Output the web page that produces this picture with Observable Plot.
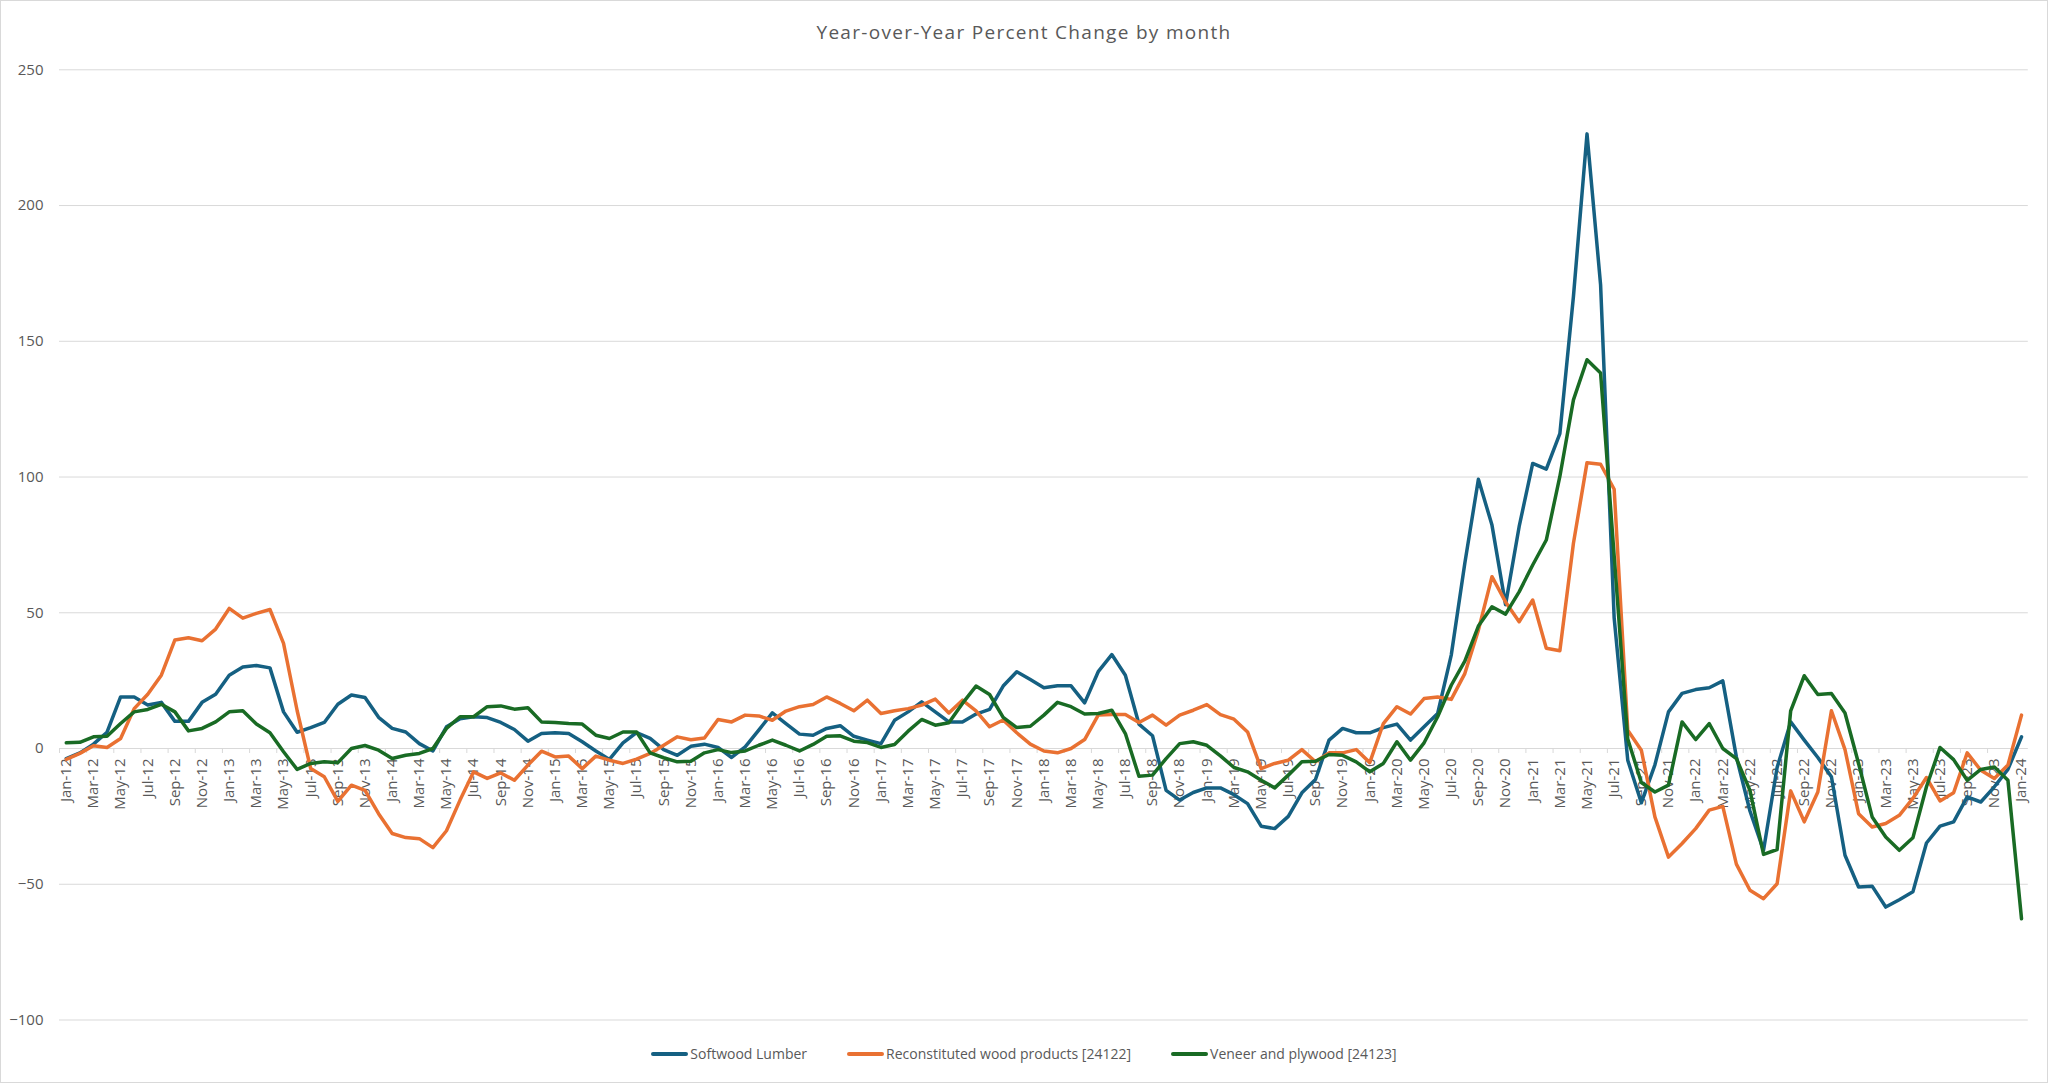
<!DOCTYPE html>
<html>
<head>
<meta charset="utf-8">
<script src="https://cdn.jsdelivr.net/npm/d3@7"></script>
<script src="https://cdn.jsdelivr.net/npm/@observablehq/plot@0.6"></script>
<style>
  html, body { margin: 0; padding: 0; background: #fff; }
  #chart { position: relative; width: 2048px; height: 1083px; background: #fff; font-family: "Open Sans", sans-serif; color: #595959; overflow: hidden; }
  #frame { position: absolute; left: 0; top: 0; width: 2048px; height: 1083px; box-sizing: border-box; border: 1px solid #d9d9d9; pointer-events: none; }
  #title { position: absolute; left: 0; top: 20px; width: 2048px; text-align: center; font-size: 19px; line-height: 24px; letter-spacing: 1.3px; color: #595959; }
  #plot { position: absolute; left: 0; top: 50px; }
  #legend { position: absolute; left: 0; top: 1044px; width: 2048px; display: flex; justify-content: center; gap: 40px; font-size: 14px; line-height: 20px; color: #595959; }
  .item { display: flex; align-items: center; gap: 2px; }
  .swatch { width: 37px; height: 4px; border-radius: 2px; }
</style>
</head>
<body>
<div id="chart">
  <div id="title">Year-over-Year Percent Change by month</div>
  <div id="plot"></div>
  <div id="legend"></div>
  <div id="frame"></div>
</div>
<script>
// Year-over-year % change, monthly, Jan-12 through Jan-24 (one row of 12 per year)
const softwoodLumber = [
  -3.7, -1.6, 1.6, 6, 19, 19, 16, 17, 10, 10, 17, 20,
  27, 30, 30.6, 29.7, 13.5, 6, 7.7, 9.6, 16.3, 19.7, 18.8, 11.5,
  7.4, 6.1, 1.8, -0.9, 8, 11, 11.7, 11.4, 9.6, 7, 2.7, 5.5,
  5.8, 5.5, 2.5, -0.9, -4, 2.1, 5.9, 3.7, -0.4, -2.5, 0.8, 1.6,
  0.4, -3.3, 0.6, 6.8, 13.1, 9.2, 5.3, 4.9, 7.4, 8.4, 4.5, 3.1,
  1.8, 10.4, 13.5, 17.2, 13.5, 9.8, 9.8, 12.7, 14.4, 23, 28.3, 25.4,
  22.4, 23.1, 23.1, 16.8, 28.3, 34.6, 27, 9, 4.7, -15.4, -19, -16.2,
  -14.5, -14.5, -17, -20.3, -28.6, -29.5, -25, -16.3, -11.4, 3.1, 7.4, 5.8,
  5.8, 7.7, 9, 3.1, 8, 12.9, 34.4, 68.2, 99.2, 82.3, 53, 81.7,
  105, 102.9, 116, 166.5, 226.4, 170.8, 48, -4.3, -20, -6, 13.5, 20.3,
  21.7, 22.4, 24.9, -3.1, -23, -37.5, -7, 9.8, 3.1, -3.3, -10.4, -39.3,
  -51, -50.7, -58.4, -55.7, -52.8, -34.8, -28.6, -27, -17.8, -19.7, -14.1, -7.7,
  4.3
];
const reconstitutedWood = [
  -4, -1.8, 1, 0.4, 3.7, 14.7, 20, 27, 40, 40.8, 39.7, 44,
  51.6, 48, 49.8, 51.2, 38.7, 14, -7.4, -10.4, -19.5, -13.5, -15.4, -24,
  -31.3, -32.8, -33.2, -36.5, -30.3, -19, -8.6, -11, -9, -11.7, -6.1, -1,
  -3.1, -2.8, -7.4, -2.8, -4.3, -5.5, -3.9, -1.8, 1.2, 4.3, 3.2, 3.9,
  10.7, 9.8, 12.3, 12, 10.4, 13.8, 15.4, 16.2, 19, 16.6, 13.9, 17.8,
  12.9, 13.9, 14.7, 16, 18.2, 13.1, 17.8, 13.9, 8, 10.5, 5.8, 1.6,
  -0.9, -1.6, 0, 3.3, 12.3, 12.5, 12.5, 9.6, 12.3, 8.6, 12.3, 14.1,
  16.2, 12.5, 10.8, 6.1, -7.4, -5.5, -4.3, -0.4, -4.9, -1.6, -1.6, -0.4,
  -5.2, 9.2, 15.4, 12.7, 18.4, 19, 18.1, 27.6, 43.6, 63.3, 54, 46.7,
  54.7, 36.9, 36, 75.6, 105.3, 104.7, 95.5, 6.7, -0.6, -25.2, -40, -35,
  -29.5, -22.7, -21.3, -42.6, -52.2, -55.3, -49.8, -15.6, -27, -16, 13.9, -0.4,
  -24, -28.9, -27.6, -24.6, -18.4, -10.7, -19.3, -16.3, -1.6, -8, -11, -6.1,
  12.3
];
const veneerPlywood = [
  2.1, 2.3, 4.3, 4.5, 9.2, 13.5, 14.4, 16.3, 13.5, 6.5, 7.4, 9.8,
  13.5, 13.9, 9, 5.8, -1.2, -7.7, -5.5, -4.9, -5.2, 0, 1.1, -0.6,
  -3.7, -2.5, -1.8, 0, 7.4, 11.7, 11.7, 15.4, 15.7, 14.5, 15, 9.8,
  9.6, 9.2, 9, 4.9, 3.7, 6.1, 6.1, -1.6, -3.4, -4.9, -4.7, -1.6,
  -0.4, -1.5, -0.9, 1.2, 3.1, 1.2, -0.9, 1.5, 4.5, 4.7, 2.7, 2.2,
  0.4, 1.5, 6.4, 10.7, 8.6, 9.5, 16.6, 23, 19.9, 11.5, 7.7, 8.2,
  12.3, 17, 15.4, 12.7, 12.9, 14.1, 5.5, -10.2, -9.8, -3.7, 1.8, 2.5,
  1.2, -2.7, -7, -8.6, -11.7, -14.5, -9.8, -4.9, -4.7, -2.2, -2.5, -4.9,
  -8.6, -5.5, 2.5, -4.3, 2.1, 11.7, 23.3, 32.2, 45.1, 52.2, 49.5, 57.7,
  67.6, 76.8, 100.2, 128.4, 143.2, 138.3, 71, 3.5, -12.5, -16, -13.5, 9.8,
  3.3, 9.2, 0, -3.7, -15.4, -39, -37.2, 13.9, 26.8, 19.9, 20.3, 13.1,
  -5.5, -25.2, -32.6, -37.5, -32.9, -14.1, 0.4, -4.1, -11.7, -7.7, -6.8, -11.7,
  -62.7
];

const seriesNames = ["Softwood Lumber", "Reconstituted wood products [24122]", "Veneer and plywood [24123]"];
const seriesColors = ["#156082", "#E97132", "#196B24"];
const seriesValues = [softwoodLumber, reconstitutedWood, veneerPlywood];
const yTicks = [-100, -50, 0, 50, 100, 150, 200, 250];

// Category labels: one per month, Jan-12 … Jan-24
const monthLabels = d3.utcMonth
  .range(new Date(Date.UTC(2012, 0, 1)), new Date(Date.UTC(2024, 1, 1)))
  .map(d3.utcFormat("%b-%y"));

const rows = seriesNames.flatMap((name, s) =>
  seriesValues[s].map((value, i) => ({series: name, i, value}))
);

// Every second month is labelled; tick marks sit on the category boundaries
const labelled = monthLabels.map((label, i) => ({label, i})).filter(d => d.i % 2 === 0);
const boundaries = d3.range(-0.5, monthLabels.length, 2);

const W = 2048, H = 985, mTop = 19.3, mBottom = 15.5, mLeft = 59, mRight = 20.2;
const unitsPerPx = (yTicks[yTicks.length - 1] - yTicks[0]) / (H - mTop - mBottom);

const chart = Plot.plot({
  width: W,
  height: H,
  marginTop: mTop,
  marginBottom: mBottom,
  marginLeft: mLeft,
  marginRight: mRight,
  style: {fontFamily: "Open Sans, sans-serif", fontSize: "15px", color: "#595959", background: "transparent"},
  x: {type: "linear", domain: [-0.5, monthLabels.length - 0.5], axis: null},
  y: {domain: [yTicks[0], yTicks[yTicks.length - 1]], axis: null},
  color: {domain: seriesNames, range: seriesColors},
  marks: [
    Plot.gridY(yTicks, {stroke: "#d9d9d9", strokeOpacity: 1, strokeWidth: 1}),
    Plot.axisY(yTicks, {label: null, tickSize: 0, tickPadding: 16, fontSize: 15, color: "#595959"}),
    Plot.ruleX(boundaries, {x: d => d, y1: 0, y2: -5 * unitsPerPx, stroke: "#d9d9d9", strokeWidth: 1}),
    Plot.text(labelled, {
      x: "i", y: 0, text: "label",
      rotate: -90, textAnchor: "end", lineAnchor: "middle",
      dy: 10, fontSize: 15, fill: "#595959"
    }),
    Plot.line(rows, {
      x: "i", y: "value", z: "series", stroke: "series",
      strokeWidth: 3.5, strokeLinejoin: "round", strokeLinecap: "round"
    })
  ]
});
document.getElementById("plot").appendChild(chart);

// Legend below the plot
const legend = d3.select("#legend");
seriesNames.forEach((name, s) => {
  const item = legend.append("div").attr("class", "item");
  item.append("div").attr("class", "swatch").style("background", seriesColors[s]);
  item.append("span").text(name);
});
</script>
</body>
</html>
